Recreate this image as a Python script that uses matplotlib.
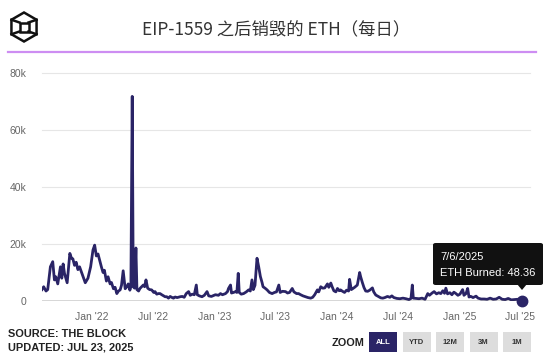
import matplotlib
matplotlib.use("Agg")
import matplotlib.pyplot as plt
import numpy as np
from matplotlib.patches import FancyBboxPatch, Polygon, Rectangle
from matplotlib.lines import Line2D

# days since 2021-08-05 (EIP-1559 activation) and ETH burned that day
start_date = "2021-08-05"
days = [
    0, 5, 12, 17, 25, 32, 37, 41, 47, 55, 59, 63, 67, 75, 83, 88, 92, 97,
    102, 107, 112, 118, 122, 129, 137, 145, 152, 157, 162, 167, 172, 177,
    182, 186, 192, 197, 203, 207, 213, 218, 223, 228, 233, 237, 242, 248,
    253, 257, 262, 265, 269, 272, 276, 280, 283, 288, 292, 297, 302, 306,
    310, 315, 321, 327, 333, 337, 342, 347, 352, 357, 363, 367, 372, 377,
    382, 388, 392, 397, 403, 412, 418, 424, 430, 437, 442, 448, 454, 460,
    463, 469, 477, 484, 492, 497, 505, 511, 517, 526, 532, 538, 547, 553,
    556, 562, 565, 571, 577, 581, 585, 588, 594, 601, 609, 616, 621, 626,
    630, 635, 641, 646, 651, 656, 659, 665, 671, 678, 686, 693, 699, 706,
    710, 717, 726, 732, 738, 746, 751, 759, 765, 771, 778, 786, 793, 801,
    807, 813, 821, 825, 831, 837, 843, 851, 855, 861, 865, 870, 876, 881,
    886, 890, 896, 902, 908, 914, 917, 922, 926, 932, 940, 944, 947, 950,
    955, 960, 965, 971, 977, 985, 989, 995, 1001, 1010, 1016, 1022, 1030,
    1037, 1043, 1049, 1058, 1067, 1076, 1085, 1094, 1100, 1104, 1107, 1115,
    1124, 1133, 1142, 1150, 1155, 1163, 1169, 1176, 1183, 1189, 1195, 1200,
    1204, 1209, 1216, 1222, 1228, 1234, 1240, 1246, 1254, 1258, 1264, 1269,
    1273, 1279, 1285, 1294, 1300, 1309, 1318, 1327, 1336, 1345, 1354, 1363,
    1372, 1381, 1390, 1399, 1408, 1417, 1426, 1431,
]
burned_k = [
    4.0, 5.0, 3.5, 4.0, 12.0, 13.8, 7.4, 8.5, 6.0, 12.0, 8.0, 13.0, 9.7,
    6.4, 16.7, 15.0, 14.8, 12.5, 13.6, 11.0, 12.0, 10.0, 8.6, 6.4, 8.0,
    12.0, 17.9, 19.6, 15.8, 16.5, 14.2, 12.0, 10.0, 10.8, 7.0, 8.5, 6.0,
    6.5, 4.3, 4.8, 2.6, 3.5, 3.9, 5.5, 10.6, 4.3, 5.0, 6.0, 3.8, 5.0, 71.8,
    5.0, 4.5, 18.6, 4.0, 3.5, 4.4, 5.0, 5.6, 5.0, 7.4, 4.5, 4.0, 3.9, 3.0,
    3.3, 2.4, 2.6, 2.6, 2.2, 1.8, 1.5, 1.5, 1.0, 1.6, 1.2, 1.0, 1.4, 1.2,
    1.5, 1.6, 1.3, 2.6, 3.3, 2.0, 2.4, 2.2, 5.6, 2.2, 1.8, 1.5, 2.0, 3.3,
    1.8, 1.6, 1.9, 2.2, 2.0, 2.6, 2.2, 2.6, 3.3, 4.4, 5.6, 2.8, 3.0, 3.3,
    3.0, 9.7, 3.0, 2.4, 2.6, 3.2, 3.9, 3.5, 7.4, 4.0, 5.5, 15.0, 12.0, 8.6,
    6.5, 5.0, 4.5, 3.9, 3.0, 2.6, 3.0, 3.2, 5.6, 3.0, 3.4, 3.3, 2.8, 3.0,
    4.4, 3.2, 2.6, 2.6, 2.2, 1.8, 1.5, 1.2, 1.0, 1.3, 2.2, 3.9, 3.2, 5.0,
    4.5, 4.6, 6.0, 4.8, 6.3, 5.0, 3.6, 3.2, 4.4, 3.6, 3.9, 3.4, 3.0, 3.8,
    3.5, 7.6, 4.0, 4.3, 4.8, 5.6, 8.0, 10.0, 8.5, 6.5, 4.7, 3.5, 3.4, 3.8,
    4.6, 3.2, 2.1, 1.7, 1.1, 1.0, 1.2, 1.6, 1.3, 1.8, 1.2, 0.9, 0.8, 1.0,
    0.8, 0.5, 0.9, 5.6, 1.0, 0.9, 0.8, 1.0, 0.6, 2.6, 2.0, 2.8, 3.3, 2.5,
    2.9, 2.6, 3.6, 2.7, 4.5, 2.5, 2.9, 2.2, 3.1, 2.6, 2.0, 2.4, 4.0, 2.0,
    2.6, 4.4, 1.4, 1.6, 1.2, 1.7, 1.0, 0.7, 0.7, 0.6, 1.0, 0.6, 0.7, 1.3,
    0.6, 0.5, 0.9, 0.4, 0.5, 0.6, 0.4, 0.04836,
]
tick_dates = ["2022-01-01", "2022-07-01", "2023-01-01", "2023-07-01",
              "2024-01-01", "2024-07-01", "2025-01-01", "2025-07-01"]
tick_labels = ["Jan '22", "Jul '22", "Jan '23", "Jul '23",
               "Jan '24", "Jul '24", "Jan '25", "Jul '25"]
y_ticks = [0, 20000, 40000, 60000, 80000]
y_labels = ["0", "20k", "40k", "60k", "80k"]
zoom_buttons = ["ALL", "YTD", "12M", "3M", "1M"]

title = "EIP-1559 之后销毁的 ETH（每日）"
tip_date = "7/6/2025"
tip_value = "ETH Burned: 48.36"

NAVY = "#2a2466"
W, H = 546, 356

dates = np.datetime64(start_date) + np.array(days).astype("timedelta64[D]")
values = np.array(burned_k) * 1000

fig = plt.figure(figsize=(W / 100, H / 100), dpi=100)
fig.patch.set_facecolor("white")


def fx(px):
    return px / W


def fy(py):
    return 1 - py / H


ax = fig.add_axes([fx(42), fy(301), fx(522) - fx(42), fy(73) - fy(301)])
ax.plot(dates, values, color=NAVY, lw=2.0, solid_joinstyle="round")
ax.plot(dates[-1:], values[-1:], "o", color=NAVY, ms=7.5, clip_on=False,
        zorder=5)
ax.set_xlim(dates[0], dates[-1])
ax.set_ylim(0, 80000)

for s in ax.spines.values():
    s.set_visible(False)
ax.axhline(0, color="#333333", lw=1.0, zorder=4)
for v in y_ticks[1:]:
    ax.axhline(v, xmin=0, xmax=1.017, color="#e6e6e6", lw=0.8, zorder=0,
               clip_on=False)

ax.set_yticks(y_ticks)
ax.set_yticklabels(y_labels)
ax.set_xticks(np.array(tick_dates, dtype="datetime64[D]"))
ax.set_xticklabels(tick_labels)
ax.tick_params(axis="both", length=0, labelsize=7.5, labelcolor="#666666",
               labelfontfamily="Liberation Sans")
ax.tick_params(axis="y", pad=11)
ax.tick_params(axis="x", pad=8)

# header
fig.text(fx(276), fy(29), title, ha="center", va="center", fontsize=12.5,
         color="#333333", family=["Noto Sans CJK SC", "DejaVu Sans"])
fig.add_artist(Line2D([fx(8), fx(536)], [fy(52), fy(52)], color="#cd8df2",
                      lw=1.6))

# logo
cx, cy, r = 24, 27, 14.5
ang = np.deg2rad(np.array([90, 30, -30, -90, -150, 150]))
hx = cx + r * np.cos(ang)
hy = cy - r * np.sin(ang)
fig.add_artist(Polygon(np.column_stack([fx(hx), fy(hy)]), closed=True,
                       fill=False, ec="#111111", lw=1.8))
sq = 4.5
sx = [cx - sq, cx + sq, cx + sq, cx - sq]
sy = [cy - sq, cy - sq, cy + sq, cy + sq]
fig.add_artist(Polygon(np.column_stack([fx(np.array(sx)), fy(np.array(sy))]),
                       closed=True, fill=False, ec="#111111", lw=1.8))
for (ax0, ay0), (ax1, ay1) in [((hx[5], hy[5]), (sx[0], sy[0])),
                               ((hx[1], hy[1]), (sx[1], sy[1])),
                               ((hx[2], hy[2]), (sx[2], sy[2])),
                               ((hx[4], hy[4]), (sx[3], sy[3]))]:
    fig.add_artist(Line2D([fx(ax0), fx(ax1)], [fy(ay0), fy(ay1)],
                          color="#111111", lw=1.8))

# tooltip
fig.add_artist(FancyBboxPatch((fx(433), fy(285)), fx(543) - fx(433),
                              fy(243) - fy(285),
                              boxstyle="round,pad=0,rounding_size=0.005",
                              fc="#111111", ec="none"))
fig.add_artist(Polygon([[fx(517), fy(284)], [fx(527), fy(284)],
                        [fx(522), fy(290)]], closed=True, fc="#111111",
                       ec="none"))
fig.text(fx(440), fy(257), tip_date, color="white", fontsize=8,
         va="center", ha="left", family="Liberation Sans")
fig.text(fx(440), fy(273), tip_value, color="white", fontsize=8,
         va="center", ha="left", family="Liberation Sans")

# footer
fig.text(fx(8), fy(334), "SOURCE: THE BLOCK", fontsize=7.9,
         fontweight="bold", color="#222222", va="center", ha="left",
         family="Liberation Sans")
fig.text(fx(8), fy(348), "UPDATED: JUL 23, 2025", fontsize=7.9,
         fontweight="bold", color="#222222", va="center", ha="left",
         family="Liberation Sans")
fig.text(fx(364), fy(343), "ZOOM", fontsize=7.8, fontweight="bold",
         color="#222222", va="center", ha="right", family="Liberation Sans")

bx = 369
for i, lab in enumerate(zoom_buttons):
    x0 = bx + i * 33.5
    active = i == 0
    fig.add_artist(Rectangle((fx(x0), fy(352)), fx(28), fy(332) - fy(352),
                             fc=NAVY if active else "#dddddd", ec="none"))
    fig.text(fx(x0 + 14), fy(342), lab, fontsize=5.5, fontweight="bold",
             color="white" if active else "#333333", ha="center",
             va="center", family="Liberation Sans")

fig.savefig("out.png", dpi=100)
